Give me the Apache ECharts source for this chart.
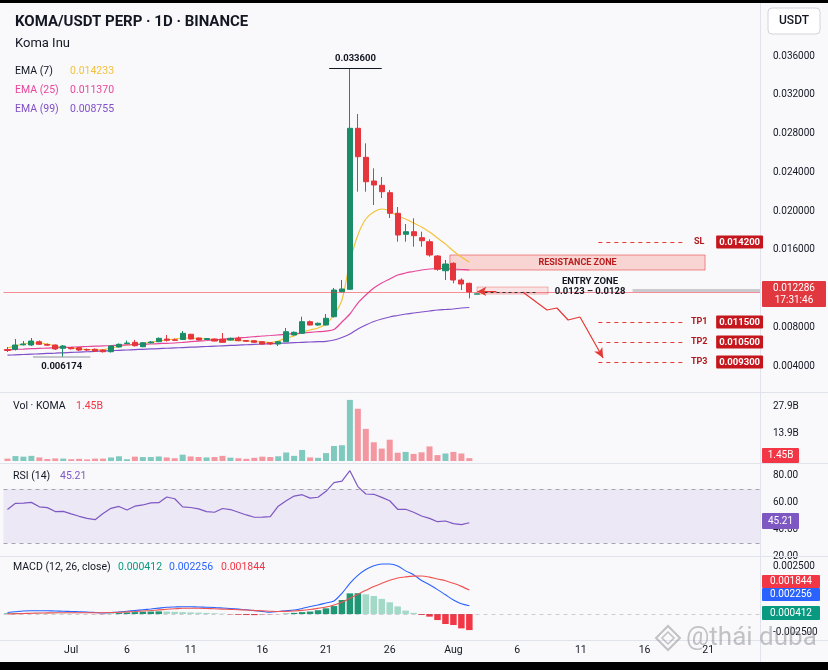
<!DOCTYPE html>
<html><head><meta charset="utf-8">
<script src="https://cdn.jsdelivr.net/npm/echarts@6/dist/echarts.min.js"></script>
<style>html,body{margin:0;padding:0;background:#f9f9fb;}#c{width:828px;height:670px;}</style>
</head><body><div id="c"></div>
<script>
// ---------- axis / ticks ----------
const slotCount = 95;
const tickLabels = ['Jul','6','11','16','21','26','Aug','6','11','16','21'];
const tickSlots = [8,15,23,32,40,48,56,64,72,80,88];

// ---------- candles ----------
const open = [0.005702,0.005723,0.006187,0.006167,0.006507,0.006218,0.006167,0.005826,0.005888,0.005888,
 0.005702,0.005723,0.005651,0.005475,0.005960,0.006311,0.006445,0.005991,0.006393,0.006507,
 0.006786,0.006703,0.006734,0.007271,0.006889,0.006734,0.006786,0.006755,0.006683,0.006858,
 0.006631,0.006610,0.006507,0.006403,0.006270,0.006507,0.007199,0.007374,0.008572,0.008231,
 0.008231,0.009088,0.011668,0.011917,0.028537,0.025543,0.023096,0.022653,0.021889,0.019762,
 0.017594,0.017863,0.017243,0.016830,0.015354,0.013836,0.014600,0.012877,0.012536];
const close = [0.005599,0.006167,0.006270,0.006579,0.006239,0.006146,0.005754,0.006063,0.005785,0.005651,
 0.005651,0.005548,0.005475,0.006063,0.006239,0.006373,0.006095,0.006403,0.006476,0.006858,
 0.006652,0.006652,0.007374,0.006786,0.006683,0.006837,0.006579,0.006445,0.006858,0.006610,
 0.006558,0.006445,0.006270,0.006270,0.006507,0.007540,0.007478,0.008572,0.008231,0.008407,
 0.008923,0.011844,0.011948,0.028537,0.025605,0.023024,0.022683,0.021992,0.019762,0.017522,
 0.017863,0.017450,0.016933,0.015457,0.013981,0.014528,0.012877,0.012464,0.011638];
const low = [0.005444,0.005599,0.006115,0.006063,0.006167,0.006063,0.005651,0.004959,0.005702,0.005548,
 0.005548,0.005444,0.005393,0.005393,0.005909,0.006270,0.006012,0.005940,0.006321,0.006455,
 0.006527,0.006579,0.006683,0.006734,0.006631,0.006683,0.006527,0.006393,0.006631,0.006558,
 0.006476,0.006393,0.006218,0.006187,0.006063,0.006476,0.007147,0.007302,0.008180,0.008149,
 0.008180,0.009006,0.011589,0.011844,0.021992,0.021992,0.020619,0.021341,0.019277,0.016830,
 0.016830,0.016314,0.016314,0.015282,0.013836,0.012877,0.012536,0.011844,0.010987];
const high = [0.005960,0.006786,0.006579,0.006889,0.006631,0.006321,0.006218,0.006167,0.005960,0.005960,
 0.005806,0.005806,0.005702,0.006115,0.006321,0.006631,0.006683,0.006476,0.006579,0.006941,
 0.007199,0.006837,0.007612,0.007323,0.006941,0.006889,0.006837,0.007405,0.006941,0.007044,
 0.006683,0.006662,0.006558,0.006455,0.006558,0.007922,0.007560,0.009088,0.008696,0.008490,
 0.009367,0.012051,0.012877,0.034761,0.030013,0.026988,0.024407,0.023509,0.022167,0.020412,
 0.018657,0.019246,0.017863,0.017078,0.015457,0.014941,0.014700,0.013052,0.012598];

// ---------- moving averages ----------
const ema7 = [0.005857,0.006063,0.006270,0.006373,0.006373,0.006270,0.006063,0.005960,0.005857,0.005754,
 0.005702,0.005651,0.005702,0.005857,0.006012,0.006167,0.006218,0.006321,0.006476,0.006579,
 0.006683,0.006786,0.006889,0.006889,0.006837,0.006786,0.006734,0.006683,0.006683,0.006631,
 0.006579,0.006527,0.006476,0.006424,0.006579,0.006889,0.007096,0.007509,0.007715,0.007922,
 0.008334,0.009264,0.010812,0.014735,0.017522,0.019174,0.019896,0.020206,0.019999,0.019483,
 0.019174,0.018761,0.018348,0.017832,0.017212,0.016593,0.015870,0.015251,0.014735];
const ema25 = [0.005681,0.005712,0.005744,0.005785,0.005816,0.005847,0.005878,0.005909,0.005940,0.005981,
 0.006012,0.006043,0.006074,0.006105,0.006146,0.006177,0.006208,0.006239,0.006270,0.006311,
 0.006342,0.006373,0.006435,0.006507,0.006569,0.006631,0.006703,0.006766,0.006827,0.006900,
 0.006962,0.007024,0.007096,0.007147,0.007209,0.007282,0.007343,0.007405,0.007478,0.007540,
 0.007601,0.007767,0.008541,0.009367,0.010502,0.011328,0.012051,0.012567,0.012980,0.013393,
 0.013599,0.013754,0.013909,0.014012,0.014064,0.014064,0.014012,0.013961,0.013909];
const ema99 = [0.005114,0.005150,0.005186,0.005222,0.005258,0.005294,0.005329,0.005365,0.005401,0.005437,
 0.005473,0.005509,0.005545,0.005581,0.005617,0.005653,0.005688,0.005724,0.005760,0.005796,
 0.005832,0.005868,0.005904,0.005940,0.005976,0.006012,0.006047,0.006083,0.006119,0.006155,
 0.006191,0.006227,0.006263,0.006299,0.006335,0.006371,0.006406,0.006442,0.006478,0.006514,
 0.006550,0.006683,0.006940,0.007302,0.007818,0.008231,0.008592,0.008851,0.009057,0.009212,
 0.009367,0.009470,0.009573,0.009676,0.009780,0.009831,0.009883,0.009986,0.010038];

// ---------- volume (billions) ----------
const volume = [1.2,2.5,2.2,2.6,1.8,1.0,1.3,1.2,0.9,1.1,
 0.8,1.2,1.2,1.8,2.4,0.9,2.2,2.0,2.0,2.3,
 1.8,1.4,3.2,2.3,2.0,1.8,2.0,2.6,1.7,1.4,
 1.1,1.6,2.2,2.0,2.4,4.3,2.6,5.6,1.8,1.6,
 4.0,7.6,8.0,31.0,26.5,16.3,9.5,6.3,10.8,4.2,
 4.6,3.6,4.4,7.4,3.0,3.8,4.6,3.8,1.45];

// ---------- RSI ----------
const rsi = [55,59.6,59.8,60.3,57,56.4,53.5,53.7,51.8,50,
 48.5,47.5,52,55.9,57.3,54.7,57.5,58.4,60,60.1,
 64.3,63,57,56.5,55.5,53.5,53,55.8,55,53,
 51,49.3,49.4,49.7,57.5,61.5,65,66,63.5,64.1,
 68.5,74.9,76,83.8,72,66.5,66.3,64,61.5,55.2,
 55.2,53,50.2,48.5,46,46.5,44.6,43.8,45.21];

// ---------- MACD ----------
const macdLine = [79e-6,120e-6,159e-6,170e-6,174e-6,168e-6,159e-6,145e-6,132e-6,120e-6,
 106e-6,80e-6,53e-6,80e-6,106e-6,145e-6,185e-6,225e-6,264e-6,310e-6,
 354e-6,372e-6,386e-6,380e-6,370e-6,358e-6,344e-6,318e-6,291e-6,258e-6,
 222e-6,178e-6,132e-6,90e-6,132e-6,169e-6,211e-6,291e-6,396e-6,476e-6,
 581e-6,687e-6,1094e-6,1623e-6,2040e-6,2347e-6,2545e-6,2644e-6,2640e-6,2535e-6,
 2280e-6,2070e-6,1773e-6,1542e-6,1290e-6,1013e-6,740e-6,540e-6,440e-6];
const signalLine = [0,13e-6,26e-6,40e-6,53e-6,58e-6,63e-6,66e-6,69e-6,69e-6,
 69e-6,69e-6,69e-6,79e-6,90e-6,110e-6,132e-6,158e-6,185e-6,216e-6,
 248e-6,275e-6,301e-6,301e-6,301e-6,290e-6,275e-6,260e-6,243e-6,227e-6,
 211e-6,190e-6,169e-6,148e-6,132e-6,137e-6,159e-6,190e-6,238e-6,301e-6,
 370e-6,480e-6,620e-6,830e-6,1040e-6,1250e-6,1450e-6,1620e-6,1780e-6,1900e-6,
 1960e-6,2000e-6,2008e-6,1950e-6,1850e-6,1760e-6,1620e-6,1460e-6,1270e-6];
const histogram = [30e-6,40e-6,50e-6,45e-6,40e-6,30e-6,25e-6,20e-6,15e-6,10e-6,
 5e-6,-5e-6,-10e-6,20e-6,50e-6,80e-6,100e-6,120e-6,130e-6,140e-6,
 130e-6,115e-6,100e-6,85e-6,70e-6,55e-6,40e-6,20e-6,-20e-6,-40e-6,
 -55e-6,-60e-6,-55e-6,-40e-6,-10e-6,20e-6,60e-6,100e-6,130e-6,200e-6,
 300e-6,420e-6,740e-6,1090e-6,1100e-6,1040e-6,950e-6,800e-6,620e-6,400e-6,
 180e-6,60e-6,-50e-6,-140e-6,-320e-6,-530e-6,-580e-6,-760e-6,-850e-6];

// ---------- texts ----------
const titleText = 'KOMA/USDT PERP · 1D · BINANCE';
const subtitleText = 'Koma Inu';
const emaNames = ['EMA (7)','EMA (25)','EMA (99)'];
const emaValues = ['0.014233','0.011370','0.008755'];
const highText = '0.033600', lowText = '0.006174';
const lastPriceText = '0.012286', countdownText = '17:31:46';
const levelNames = ['SL','TP1','TP2','TP3'];
const levelTexts = ['0.014200','0.011500','0.010500','0.009300'];
const levelDrawn = [0.016800,0.008541,0.006476,0.004412];   // where the labels sit on the chart
const resistanceZone = [0.013909,0.015457];
const entryBox = [0.011430,0.012154];
const entryTexts = ['ENTRY ZONE','0.0123 – 0.0128'];
const pathX = [64.7,67.75,69.0,70.4,71.9,74.8];
const pathY = [0.011638,0.00978,0.009986,0.008747,0.009057,0.004825];
const volText = '1.45B', rsiText = '45.21';
const macdTexts = ['0.000412','0.002256','0.001844'];

// ---------- colours ----------
const UP='#1a8d68', DOWN='#e5353d';
const C_E7='#f2c33c', C_E25='#e6479b', C_E99='#8150c8';
const RED='#f23645', BLUE='#2962ff', GREEN='#089981', PURPLE='#7e57c2';
const FONT='Roboto, sans-serif';

const cats = Array.from({length: slotCount}, (_, i) => String(i));
const labelMap = {}; tickSlots.forEach((s, k) => labelMap[s] = tickLabels[k]);

const G = {left:3.5, width:756.5};
function catAxis(gi, showLabel){
  return {type:'category', gridIndex:gi, data:cats, boundaryGap:true,
    axisLine:{show:false}, axisTick:{show:false}, splitLine:{show:false},
    axisLabel:{show:showLabel, interval:0, margin:5, color:'#131722', fontSize:10.5, fontFamily:FONT,
      formatter:(v, idx) => labelMap[idx] || ''}};
}
function valAxis(gi, extra){
  return Object.assign({type:'value', gridIndex:gi, position:'right',
    axisLine:{show:false}, axisTick:{show:false}, splitLine:{show:false}}, extra);
}
function txt(x, y, s, font, fill, align){
  return {type:'text', x:x, y:y, z:100, silent:true,
    style:{text:s, font:font, fill:fill, textAlign:align||'left', align:align||'left',
      textVerticalAlign:'middle', verticalAlign:'middle'}};
}
function box(x, y, w, h, fill){
  return {type:'rect', z:99, silent:true, shape:{x:x, y:y, width:w, height:h, r:1}, style:{fill:fill}};
}
function hline(y, x1, x2){
  return {type:'line', z:1, silent:true, shape:{x1:x1, y1:y, x2:x2, y2:y}, style:{stroke:'#e0e3eb', lineWidth:1}};
}

const n = open.length;
const lastClose = close[n-1];

// annotation mark lines (on hidden value x axis)
const annLines = [];
annLines.push([{coord:[-0.5, lastClose], lineStyle:{color:'rgba(242,54,69,0.55)', width:1, type:'solid'}}, {coord:[slotCount-0.5, lastClose]}]);
levelNames.forEach((nm, k) => {
  annLines.push([
    {coord:[74.2, levelDrawn[k]], lineStyle:{color:'#e53935', width:1, type:[4,4]},
     label:{show:true, position:'end', distance:3, formatter:'{t|'+nm+'}{b|'+levelTexts[k]+'}',
       rich:{t:{color:'#b0191e', fontWeight:'bold', fontSize:9, width:22, align:'right', padding:[0,6,0,0], fontFamily:FONT},
             b:{backgroundColor:'#c4161c', color:'#fff', fontSize:9.5, fontWeight:'bold', padding:[2,3,1,3], borderRadius:1, fontFamily:FONT}}}},
    {coord:[85.1, levelDrawn[k]]}
  ]);
});
annLines.push([
  {coord:[40.4, high[43]], lineStyle:{color:'#131722', width:1, type:'solid'},
   label:{show:true, position:'insideMiddleTop', distance:4, formatter:highText, color:'#131722', fontSize:9.5, fontWeight:'bold', fontFamily:FONT}},
  {coord:[47.0, high[43]]}
]);
annLines.push([
  {coord:[3.2, low[7]], lineStyle:{color:'rgba(120,123,134,0.55)', width:1.5, type:'solid'},
   label:{show:true, position:'insideMiddleBottom', distance:5, formatter:lowText, color:'#131722', fontSize:9.5, fontWeight:'bold', fontFamily:FONT}},
  {coord:[10.4, low[7]]}
]);
annLines.push([{coord:[59.9, 0.011586], lineStyle:{color:'#333', width:1, type:[3,3]}}, {coord:[66.6, 0.011586]}]);
annLines.push([{coord:[61.4, 0.011700], lineStyle:{color:'#e53935', width:1, type:'solid'}}, {coord:[59.0, 0.011700], symbol:'arrow', symbolSize:[7,9]}]);
annLines.push([{coord:[58.6, 0.011431], lineStyle:{color:UP, width:1.5, type:'solid'}}, {coord:[59.3, 0.011431]}]);
annLines.push([{coord:[78.5, 0.011844], lineStyle:{color:'rgba(185,187,192,0.75)', width:3, type:'solid'}}, {coord:[94.5, 0.011844]}]);
annLines.push([{coord:[pathX[4], pathY[4]], lineStyle:{color:'#e53935', width:1.2, type:'solid'}}, {coord:[pathX[5], pathY[5]], symbol:'arrow', symbolSize:[7,10]}]);

const option = {
  animation:false,
  backgroundColor:'#f9f9fb',
  textStyle:{fontFamily:FONT},
  grid:[
    Object.assign({top:17.25, height:387.5, outerBoundsMode:'none'}, G),
    Object.assign({top:393, height:68, outerBoundsMode:'none'}, G),
    Object.assign({top:465, height:91.8, outerBoundsMode:'none'}, G),
    Object.assign({top:557, height:83, outerBoundsMode:'none'}, G)
  ],
  xAxis:[catAxis(0,false), catAxis(1,false), catAxis(2,false), catAxis(3,true),
    {type:'value', gridIndex:0, min:-0.5, max:slotCount-0.5, show:false}],
  yAxis:[
    valAxis(0, {min:0, max:0.04, interval:0.004,
      axisLabel:{showMinLabel:false, showMaxLabel:false, margin:13, color:'#131722', fontSize:10, formatter:v=>v.toFixed(6)}}),
    valAxis(1, {min:0, max:34.5,
      axisLabel:{customValues:[13.9,27.9], margin:13, color:'#131722', fontSize:10, formatter:v=>v.toFixed(1)+'B'}}),
    valAxis(2, {min:20, max:88, interval:20,
      axisLabel:{showMaxLabel:false, margin:13, color:'#131722', fontSize:10, formatter:v=>v.toFixed(2)}}),
    valAxis(3, {min:-0.0013742, max:0.0030127,
      axisLabel:{customValues:[0.0025], margin:13, color:'#131722', fontSize:10, formatter:v=>v.toFixed(6)}})
  ],
  series:[
    {type:'line', name:'annotations', xAxisIndex:4, yAxisIndex:0, z:1,
      data:pathX.slice(0,5).map((x,i)=>[x, pathY[i]]), symbol:'none', silent:true,
      lineStyle:{color:'#e53935', width:1.2},
      markArea:{silent:true, data:[
        [{name:'RESISTANCE ZONE', coord:[55.56, resistanceZone[1]],
          itemStyle:{color:'rgba(244,67,54,0.2)', borderColor:'rgba(229,57,53,0.55)', borderWidth:1},
          label:{show:true, position:'inside', color:'#b71c1c', fontWeight:'bold', fontSize:9, fontFamily:FONT}},
         {coord:[87.6, resistanceZone[0]]}],
        [{name:'', coord:[58.96, entryBox[1]],
          itemStyle:{color:'rgba(244,67,54,0.12)', borderColor:'rgba(229,57,53,0.35)', borderWidth:1},
          label:{show:false}},
         {coord:[67.88, entryBox[0]]}]
      ]},
      markLine:{silent:true, symbol:['none','none'], label:{show:false}, data:annLines}
    },
    {type:'candlestick', xAxisIndex:0, yAxisIndex:0, z:3, barWidth:5.6,
      data:open.map((o,i)=>[o, close[i], low[i], high[i]]),
      itemStyle:{color:UP, color0:DOWN, borderColor:UP, borderColor0:DOWN, borderWidth:1}
    },
    {type:'line', xAxisIndex:0, yAxisIndex:0, z:2, data:ema7, symbol:'none', smooth:0.3, lineStyle:{color:C_E7, width:1.2}},
    {type:'line', xAxisIndex:0, yAxisIndex:0, z:2, data:ema25, symbol:'none', smooth:0.3, lineStyle:{color:C_E25, width:1.2}},
    {type:'line', xAxisIndex:0, yAxisIndex:0, z:2, data:ema99, symbol:'none', smooth:0.3, lineStyle:{color:C_E99, width:1.2}},
    {type:'bar', xAxisIndex:1, yAxisIndex:1, data:volume, barWidth:6,
      itemStyle:{color:p => close[p.dataIndex] >= open[p.dataIndex] ? 'rgba(8,153,129,0.5)' : 'rgba(242,54,69,0.5)'}},
    {type:'line', xAxisIndex:2, yAxisIndex:2, data:rsi, symbol:'none', lineStyle:{color:PURPLE, width:1.2},
      markArea:{silent:true, itemStyle:{color:'rgba(126,87,194,0.1)'}, data:[[{yAxis:70},{yAxis:30}]]},
      markLine:{silent:true, symbol:['none','none'], label:{show:false},
        lineStyle:{color:'#a3a6af', width:1, type:[4,4]}, data:[{yAxis:70},{yAxis:30}]}
    },
    {type:'bar', xAxisIndex:3, yAxisIndex:3, data:histogram, barWidth:6.5,
      itemStyle:{color:p => {
        const i = p.dataIndex, v = histogram[i], pv = i > 0 ? histogram[i-1] : 0;
        if (v >= 0) return v >= pv ? '#1f9674' : '#a2d9c7';
        return v <= pv ? '#f23645' : '#f9b9bd';
      }},
      markLine:{silent:true, symbol:['none','none'], label:{show:false},
        lineStyle:{color:'rgba(120,123,134,0.35)', width:1, type:[4,4]}, data:[{yAxis:0}]}
    },
    {type:'line', xAxisIndex:3, yAxisIndex:3, data:macdLine, symbol:'none', smooth:0.3, lineStyle:{color:BLUE, width:1.1}},
    {type:'line', xAxisIndex:3, yAxisIndex:3, data:signalLine, symbol:'none', smooth:0.3, lineStyle:{color:'#ef5350', width:1.1}}
  ],
  graphic:[
    {type:'rect', z:0, silent:true, shape:{x:0,y:0,width:828,height:3}, style:{fill:'#000'}},
    {type:'rect', z:0, silent:true, shape:{x:0,y:662,width:828,height:8}, style:{fill:'#000'}},
    hline(392.5, 0, 828), hline(463.5, 0, 828), hline(556.5, 0, 828), hline(640.5, 0, 828),
    {type:'line', z:1, silent:true, shape:{x1:760.5,y1:3,x2:760.5,y2:662}, style:{stroke:'#e0e3eb', lineWidth:1}},
    txt(15, 22, titleText, 'bold 15px '+FONT, '#131722'),
    txt(15, 44, subtitleText, '13px '+FONT, '#131722'),
    txt(15, 71, emaNames[0], '10.5px '+FONT, '#131722'), txt(70, 71, emaValues[0], '10.5px '+FONT, C_E7),
    txt(15, 90, emaNames[1], '10.5px '+FONT, C_E25), txt(70, 90, emaValues[1], '10.5px '+FONT, C_E25),
    txt(15, 109, emaNames[2], '10.5px '+FONT, C_E99), txt(70, 109, emaValues[2], '10.5px '+FONT, C_E99),
    {type:'rect', z:99, silent:true, shape:{x:768, y:8, width:52, height:26, r:4}, style:{fill:'#fff', stroke:'#d1d4dc', lineWidth:1}},
    txt(794, 21, 'USDT', '500 12px '+FONT, '#131722', 'center'),
    txt(590, 281.5, entryTexts[0], 'bold 9.5px '+FONT, '#131722', 'center'),
    txt(590, 292, entryTexts[1], 'bold 9.5px '+FONT, '#131722', 'center'),
    box(762, 281, 64, 26, '#e0383e'),
    txt(794, 288.5, lastPriceText, '10px '+FONT, '#fff', 'center'),
    txt(794, 300, countdownText, '10px '+FONT, '#fff', 'center'),
    txt(13, 406, 'Vol · KOMA', '10.5px '+FONT, '#131722'), txt(76, 406, volText, '10.5px '+FONT, RED),
    box(762, 448, 37, 15, RED), txt(780.5, 455.5, volText, '10px '+FONT, '#fff', 'center'),
    txt(13, 476, 'RSI (14)', '10.5px '+FONT, '#131722'), txt(60, 476, rsiText, '10.5px '+FONT, PURPLE),
    box(762, 513, 37, 16, PURPLE), txt(780.5, 521, rsiText, '10px '+FONT, '#fff', 'center'),
    txt(13, 567, 'MACD (12, 26, close)', '10.5px '+FONT, '#131722'),
    txt(118, 567, macdTexts[0], '10.5px '+FONT, GREEN),
    txt(169, 567, macdTexts[1], '10.5px '+FONT, BLUE),
    txt(221, 567, macdTexts[2], '10.5px '+FONT, RED),
    box(762, 575, 58, 13, RED), txt(791, 581.5, macdTexts[2], '10px '+FONT, '#fff', 'center'),
    box(762, 588, 58, 13, BLUE), txt(791, 594.5, macdTexts[1], '10px '+FONT, '#fff', 'center'),
    box(762, 606, 58, 14, GREEN), txt(791, 613, macdTexts[0], '10px '+FONT, '#fff', 'center'),
    txt(773, 632, '-0.002500', '10px '+FONT, '#131722'),
    {type:'polygon', z:101, silent:true, shape:{points:[[668,626],[680,638],[668,650],[656,638]]}, style:{fill:'none', stroke:'rgba(140,140,145,0.5)', lineWidth:2}},
    {type:'polygon', z:101, silent:true, shape:{points:[[668,632],[674,638],[668,644],[662,638]]}, style:{fill:'none', stroke:'rgba(140,140,145,0.5)', lineWidth:1.5}},
    txt(686, 638, '@thái duba', '26px '+FONT, 'rgba(140,140,145,0.5)')
  ]
};
const chart = echarts.init(document.getElementById('c'), null, {renderer:'canvas'});
chart.setOption(option);
</script>
</body></html>
